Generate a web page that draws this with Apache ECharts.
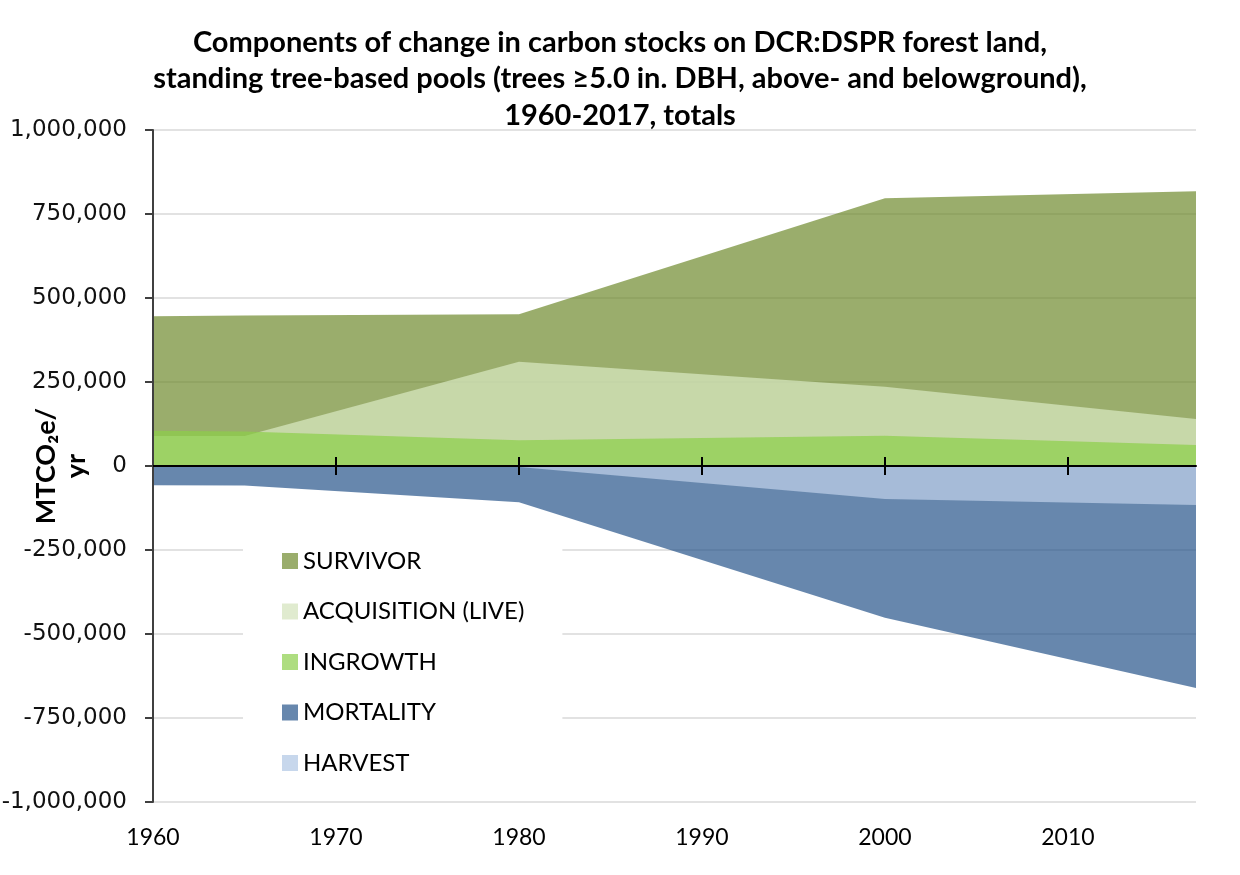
<!DOCTYPE html>
<html>
<head>
<meta charset="utf-8">
<script src="https://cdn.jsdelivr.net/npm/echarts@6/dist/echarts.min.js"></script>
<style>
  html, body { margin: 0; padding: 0; background: #fff; }
  #chart { width: 1240px; height: 875px; }
</style>
</head>
<body>
<div id="chart"></div>
<script>
const years = [1960, 1965, 1980, 2000, 2017];
const survivor = [446000, 448000, 452000, 797000, 818000];
const acquisition = [89000, 89000, 310000, 236000, 140000];
const ingrowth = [105000, 103000, 77000, 90000, 62500];
const mortality = [-57000, -58000, -108000, -452000, -661000];
const harvest = [0, 0, -3000, -98000, -116000];

const yearLabels = [1960, 1970, 1980, 1990, 2000, 2010];
const yearTicks = [1970, 1980, 1990, 2000, 2010];

const seriesNames = ['SURVIVOR', 'ACQUISITION (LIVE)', 'INGROWTH', 'MORTALITY', 'HARVEST'];
const seriesValues = [survivor, acquisition, ingrowth, mortality, harvest];
const areaColors = ['#6f8a2d', '#dae9c3', '#8cce49', '#26548a', '#c1d1e9'];
const swatchColors = ['#9aad6c', '#e0ebcf', '#aedd80', '#6787ad', '#c7d7ec'];

const toPoints = (vals) => years.map((y, i) => [y, vals[i]]);

const buildSeries = () => seriesNames.map((name, i) => ({
  name: name,
  type: 'line',
  xAxisIndex: 0,
  yAxisIndex: 0,
  data: toPoints(seriesValues[i]),
  symbol: 'none',
  color: areaColors[i],
  lineStyle: { width: 0 },
  areaStyle: { color: areaColors[i], opacity: 0.7 },
  emphasis: { disabled: true },
  z: 2
}));

const xBase = { type: 'value', min: 1960, max: 2017, splitLine: { show: false } };
const yBase = { type: 'value', min: -1000000, max: 1000000, interval: 250000, position: 'left' };

const getOption = () => ({
  animation: false,
  title: {
    text: 'Components of change in carbon stocks on DCR:DSPR forest land,\nstanding tree-based pools (trees \u22655.0 in. DBH, above- and belowground),\n1960-2017, totals',
    left: 'center',
    top: 19,
    textStyle: {
      fontFamily: 'Lato',
      fontWeight: 'bold',
      fontSize: 29,
      lineHeight: 36.5,
      color: '#000'
    }
  },
  grid: { left: 153, right: 44, top: 130, bottom: 73, containLabel: false, outerBoundsMode: 'none' },
  legend: {
    orient: 'vertical',
    left: 243,
    top: 529,
    padding: [20, 38, 20, 39],
    backgroundColor: '#fff',
    icon: 'rect',
    itemWidth: 16,
    itemHeight: 16,
    itemGap: 26.5,
    textStyle: { fontFamily: 'Lato', fontSize: 24, lineHeight: 24, color: '#000' },
    data: seriesNames.map((name, i) => ({ name: name, itemStyle: { color: swatchColors[i] } }))
  },
  xAxis: [
    Object.assign({}, xBase, {
      position: 'bottom',
      axisLine: { show: false, onZero: false },
      axisTick: { show: false },
      axisLabel: {
        customValues: yearLabels,
        margin: 24,
        fontFamily: 'Lato',
        fontSize: 23,
        color: '#000',
        formatter: (v) => String(v)
      }
    }),
    Object.assign({}, xBase, {
      position: 'bottom',
      z: 10,
      axisLine: { show: true, onZero: true, onZeroAxisIndex: 0, lineStyle: { color: '#000', width: 2 } },
      axisTick: { show: true, customValues: yearTicks, length: 9, lineStyle: { color: '#000', width: 2 } },
      axisLabel: { show: false }
    }),
    Object.assign({}, xBase, {
      position: 'bottom',
      z: 10,
      axisLine: { show: false, onZero: true, onZeroAxisIndex: 0 },
      axisTick: { show: true, inside: true, customValues: yearTicks, length: 9, lineStyle: { color: '#000', width: 2 } },
      axisLabel: { show: false }
    })
  ],
  yAxis: [
    Object.assign({}, yBase, {
      name: 'MTCO\u2082e/\nyr',
      nameLocation: 'middle',
      nameRotate: 90,
      nameGap: 62,
      nameMoveOverlap: false,
      nameTextStyle: { fontFamily: 'Lato', fontWeight: 'bold', fontSize: 27, lineHeight: 30, color: '#000' },
      axisLine: { show: false },
      axisTick: { show: false },
      splitLine: { show: true, lineStyle: { color: '#d9d9d9', width: 1.5 } },
      axisLabel: {
        margin: 26,
        fontFamily: 'DejaVu Sans',
        fontSize: 23,
        color: '#111',
        formatter: (v) => v.toLocaleString('en-US')
      }
    }),
    Object.assign({}, yBase, {
      z: 10,
      axisLine: { show: true, onZero: false, lineStyle: { color: '#404040', width: 2 } },
      axisTick: { show: true, length: 8, lineStyle: { color: '#404040', width: 2 } },
      splitLine: { show: false },
      axisLabel: { show: false }
    })
  ],
  series: buildSeries()
});

window.addEventListener('load', () => {
  const chart = echarts.init(document.getElementById('chart'));
  chart.setOption(getOption());
});
</script>
</body>
</html>
